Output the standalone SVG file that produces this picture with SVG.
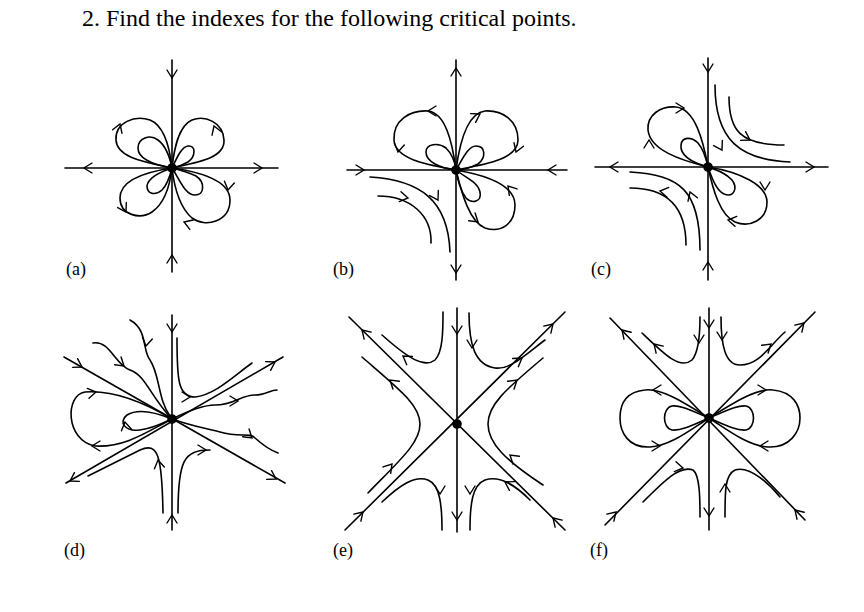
<svg xmlns="http://www.w3.org/2000/svg" xmlns:xlink="http://www.w3.org/1999/xlink" width="864" height="612" viewBox="0 0 864 612">
<style>
.l{fill:none;stroke:#000;stroke-width:1.6;stroke-linecap:round}
.t{font-family:"Liberation Serif",serif;fill:#000}
.ch{fill:none;stroke:#000;stroke-width:1.4}
</style>
<defs><path id="c" class="ch" d="M-8,-5 L0,0 L-8,5"/></defs>
<rect width="864" height="612" fill="#fff"/>
<text class="t" x="82" y="26" font-size="24">2.  Find the indexes for the following critical points.</text>
<g id="a" class="l">
<path d="M172,60 V272 M65,168 H278"/>
<path d="M172,168 C145,162 117,158 116,140 C115,122 135,115 150,120 C165,126 170,150 172,168"/>
<path d="M172,168 C199,162 225,158 224,140 C223,122 205,115 192,120 C178,126 174,150 172,168"/>
<path d="M172,168 C145,172 120,180 120,198 C120,215 140,220 152,212 C165,203 170,185 172,168"/>
<path d="M172,168 C200,172 230,180 230,200 C230,222 205,228 192,218 C178,206 174,185 172,168"/>
<path d="M172,168 C155,165 138,160 138,148 C138,138 150,134 158,140 C166,146 170,158 172,168"/>
<path d="M172,168 C178,155 182,147 188,146 C196,145 196,156 188,162 C183,165 177,167 172,168"/>
<path d="M172,168 C160,172 148,178 147,186 C147,194 155,196 162,190 C167,185 170,176 172,168"/>
<path d="M172,168 C180,180 185,195 195,195 C205,195 205,182 196,176 C188,172 180,170 172,168"/>
<circle cx="172" cy="168" r="4" fill="#000"/>
<use xlink:href="#c" transform="translate(172,78) rotate(90)"/>
<use xlink:href="#c" transform="translate(172,255) rotate(-90)"/>
<use xlink:href="#c" transform="translate(84,168) rotate(180)"/>
<use xlink:href="#c" transform="translate(262,168)"/>
<use xlink:href="#c" transform="translate(120,124) rotate(-70)"/>
<use xlink:href="#c" transform="translate(214,126) rotate(-110)"/>
<use xlink:href="#c" transform="translate(126,212) rotate(60)"/>
<use xlink:href="#c" transform="translate(228,190) rotate(100)"/>
<use xlink:href="#c" transform="translate(184,222) rotate(200)"/>
<text class="t" x="66" y="275" font-size="18" stroke="none">(a)</text>
</g>
<g id="b" class="l">
<path d="M456,60 V280 M347,170 H567"/>
<path d="M456,170 C430,165 395,160 394,140 C393,120 410,110 428,111 C445,113 452,140 456,170"/>
<path d="M456,170 C482,165 518,160 518,140 C518,120 502,110 485,111 C468,113 460,140 456,170"/>
<path d="M456,170 C485,175 515,185 515,205 C515,225 500,233 485,228 C470,222 462,195 456,170"/>
<path d="M456,170 C440,168 426,162 426,152 C426,144 438,142 446,148 C452,154 455,162 456,170"/>
<path d="M456,170 C462,160 468,146 476,146 C486,146 486,158 478,164 C470,168 462,170 456,170"/>
<path d="M456,170 C466,178 478,182 480,192 C482,202 472,204 466,198 C460,190 458,180 456,170"/>
<path d="M370,177 C420,180 448,200 450,252"/>
<path d="M378,196 C410,196 432,215 431,243"/>
<circle cx="456" cy="170" r="4" fill="#000"/>
<use xlink:href="#c" transform="translate(456,68) rotate(-90)"/>
<use xlink:href="#c" transform="translate(456,273) rotate(90)"/>
<use xlink:href="#c" transform="translate(364,170)"/>
<use xlink:href="#c" transform="translate(548,170) rotate(180)"/>
<use xlink:href="#c" transform="translate(428,111) rotate(180)"/>
<use xlink:href="#c" transform="translate(398,152) rotate(100)"/>
<use xlink:href="#c" transform="translate(480,114) rotate(-30)"/>
<use xlink:href="#c" transform="translate(516,152) rotate(110)"/>
<use xlink:href="#c" transform="translate(508,186) rotate(-130)"/>
<use xlink:href="#c" transform="translate(478,222) rotate(40)"/>
<use xlink:href="#c" transform="translate(438,200) rotate(60)"/>
<use xlink:href="#c" transform="translate(408,198) rotate(10)"/>
<text class="t" x="333" y="275" font-size="18" stroke="none">(b)</text>
</g>
<g id="c1" class="l">
<path d="M708,58 V280 M595,167 H828"/>
<path d="M708,167 C680,160 650,150 648,130 C647,115 660,106 676,107 C695,109 703,140 708,167"/>
<path d="M708,167 C740,172 767,185 767,202 C767,220 750,228 735,222 C720,215 713,190 708,167"/>
<path d="M708,167 C690,162 680,155 681,145 C682,136 692,137 698,143 C704,150 706,158 708,167"/>
<path d="M708,167 C712,178 716,190 724,194 C734,198 738,188 732,180 C725,172 716,170 708,167"/>
<path d="M715,85 C715,140 740,160 790,162"/>
<path d="M729,97 C729,130 740,145 784,145"/>
<path d="M630,172 C680,175 700,190 700,250"/>
<path d="M630,188 C670,188 686,210 686,245"/>
<circle cx="708" cy="167" r="4" fill="#000"/>
<use xlink:href="#c" transform="translate(708,72) rotate(90)"/>
<use xlink:href="#c" transform="translate(708,262) rotate(-90)"/>
<use xlink:href="#c" transform="translate(610,167) rotate(180)"/>
<use xlink:href="#c" transform="translate(814,167)"/>
<use xlink:href="#c" transform="translate(684,108)"/>
<use xlink:href="#c" transform="translate(649,140) rotate(-90)"/>
<use xlink:href="#c" transform="translate(765,190) rotate(90)"/>
<use xlink:href="#c" transform="translate(728,220) rotate(190)"/>
<use xlink:href="#c" transform="translate(722,150) rotate(60)"/>
<use xlink:href="#c" transform="translate(750,140) rotate(30)"/>
<use xlink:href="#c" transform="translate(690,192) rotate(-110)"/>
<use xlink:href="#c" transform="translate(660,191) rotate(190)"/>
<text class="t" x="591" y="275" font-size="18" stroke="none">(c)</text>
</g>
<g id="d" class="l">
<path d="M172,315 V530 M64,357 L285,483 M66,483 L283,357"/>
<path d="M177,338 C177,380 178,397 195,397 C215,395 235,375 252,363"/>
<path d="M88,476 L140,450 C158,442 162,455 163,513"/>
<path d="M178,513 C178,460 184,450 210,450"/>
<path d="M172,419 C140,400 110,390 85,392 C65,395 65,440 95,446 C125,448 150,430 172,419"/>
<path d="M172,419 C150,410 135,410 127,415 C118,422 125,432 140,430 C155,428 165,422 172,419"/>
<path d="M93,343 C110,340 115,365 130,370 C145,375 150,395 170,417"/>
<path d="M130,320 C148,330 142,350 150,360 C160,375 158,400 170,416"/>
<path d="M172,419 C190,410 205,405 215,405 C235,405 240,395 255,395 C265,395 270,390 277,390"/>
<path d="M172,419 C195,427 205,428 220,432 C240,438 250,432 255,438 C265,447 270,450 278,453"/>
<circle cx="172" cy="419" r="4" fill="#000"/>
<use xlink:href="#c" transform="translate(172,332) rotate(90)"/>
<use xlink:href="#c" transform="translate(172,515) rotate(-90)"/>
<use xlink:href="#c" transform="translate(82,367) rotate(30)"/>
<use xlink:href="#c" transform="translate(276,479) rotate(30)"/>
<use xlink:href="#c" transform="translate(70,481) rotate(150)"/>
<use xlink:href="#c" transform="translate(275,362) rotate(-30)"/>
<use xlink:href="#c" transform="translate(190,397)"/>
<use xlink:href="#c" transform="translate(158,460) rotate(-100)"/>
<use xlink:href="#c" transform="translate(206,450)"/>
<use xlink:href="#c" transform="translate(96,392) rotate(-10)"/>
<use xlink:href="#c" transform="translate(92,446) rotate(180)"/>
<use xlink:href="#c" transform="translate(125,422) rotate(-100)"/>
<use xlink:href="#c" transform="translate(146,346) rotate(100)"/>
<use xlink:href="#c" transform="translate(124,366) rotate(40)"/>
<use xlink:href="#c" transform="translate(238,401)"/>
<use xlink:href="#c" transform="translate(252,438) rotate(40)"/>
<text class="t" x="64" y="556" font-size="18" stroke="none">(d)</text>
</g>
<g id="e" class="l">
<path d="M457,308 V532 M349,317 L565,530 M565,312 L345,530"/>
<path d="M362,357 C400,390 420,405 420,424 C420,443 400,460 368,493"/>
<path d="M543,358 C505,390 488,405 488,424 C488,443 505,460 543,485"/>
<path d="M382,335 C410,360 425,368 435,360 C443,352 443,330 443,312"/>
<path d="M469,313 C469,345 475,365 495,368 C510,370 525,355 545,340"/>
<path d="M382,502 C400,485 415,475 428,480 C440,485 442,505 442,530"/>
<path d="M470,530 C470,505 472,485 485,480 C500,475 515,485 530,500"/>
<circle cx="457" cy="424" r="4" fill="#000"/>
<use xlink:href="#c" transform="translate(457,334) rotate(90)"/>
<use xlink:href="#c" transform="translate(457,520) rotate(90)"/>
<use xlink:href="#c" transform="translate(362,330) rotate(-135)"/>
<use xlink:href="#c" transform="translate(553,518) rotate(-135)"/>
<use xlink:href="#c" transform="translate(553,324) rotate(-45)"/>
<use xlink:href="#c" transform="translate(363,512) rotate(-45)"/>
<use xlink:href="#c" transform="translate(390,380) rotate(-140)"/>
<use xlink:href="#c" transform="translate(392,464) rotate(-50)"/>
<use xlink:href="#c" transform="translate(517,380) rotate(-40)"/>
<use xlink:href="#c" transform="translate(510,455) rotate(-140)"/>
<use xlink:href="#c" transform="translate(403,356) rotate(-145)"/>
<use xlink:href="#c" transform="translate(472,348) rotate(90)"/>
<use xlink:href="#c" transform="translate(522,358) rotate(-35)"/>
<use xlink:href="#c" transform="translate(440,494) rotate(90)"/>
<use xlink:href="#c" transform="translate(470,494) rotate(90)"/>
<use xlink:href="#c" transform="translate(505,482) rotate(-150)"/>
<text class="t" x="333" y="556" font-size="18" stroke="none">(e)</text>
</g>
<g id="f" class="l">
<path d="M709,308 V530 M610,318 L805,520 M815,312 L605,525"/>
<path d="M642,333 C665,355 680,370 692,360 C699,352 700,335 700,317"/>
<path d="M721,317 C721,345 725,365 740,365 C760,365 770,345 785,332"/>
<path d="M643,502 C665,480 680,465 693,470 C700,475 700,500 700,517"/>
<path d="M725,517 C725,490 725,475 735,470 C750,465 770,485 780,497"/>
<path d="M709,418 C680,400 660,388 645,390 C625,392 620,405 620,418 C620,432 628,448 650,447 C670,446 690,430 709,418"/>
<path d="M709,418 C738,400 758,388 773,390 C793,392 800,405 800,418 C800,432 790,448 768,447 C748,446 728,430 709,418"/>
<path d="M709,418 C690,410 680,405 672,406 C662,408 662,428 672,430 C682,431 695,424 709,418"/>
<path d="M709,418 C728,410 738,405 746,406 C756,408 756,428 746,430 C736,431 723,424 709,418"/>
<circle cx="709" cy="418" r="4" fill="#000"/>
<use xlink:href="#c" transform="translate(709,328) rotate(90)"/>
<use xlink:href="#c" transform="translate(709,516) rotate(90)"/>
<use xlink:href="#c" transform="translate(622,330) rotate(-134)"/>
<use xlink:href="#c" transform="translate(795,510) rotate(-134)"/>
<use xlink:href="#c" transform="translate(804,323) rotate(-45)"/>
<use xlink:href="#c" transform="translate(616,512) rotate(-45)"/>
<use xlink:href="#c" transform="translate(654,344) rotate(-135)"/>
<use xlink:href="#c" transform="translate(699,343) rotate(90)"/>
<use xlink:href="#c" transform="translate(722,340) rotate(90)"/>
<use xlink:href="#c" transform="translate(771,344) rotate(-40)"/>
<use xlink:href="#c" transform="translate(683,468) rotate(10)"/>
<use xlink:href="#c" transform="translate(725,484) rotate(-90)"/>
<use xlink:href="#c" transform="translate(653,390) rotate(180)"/>
<use xlink:href="#c" transform="translate(660,446)"/>
<use xlink:href="#c" transform="translate(766,390)"/>
<use xlink:href="#c" transform="translate(760,446) rotate(180)"/>
<text class="t" x="590" y="556" font-size="18" stroke="none">(f)</text>
</g>
</svg>
